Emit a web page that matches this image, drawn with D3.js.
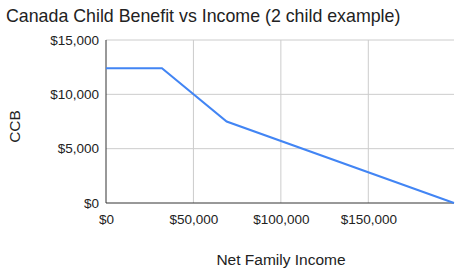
<!DOCTYPE html>
<html>
<head>
<meta charset="utf-8">
<script src="https://cdn.jsdelivr.net/npm/d3@7"></script>
<style>
  body { margin: 0; background: #fff; }
  text { font-family: "Liberation Sans", Arial, sans-serif; fill: #222; }
</style>
</head>
<body>
<svg id="chart" width="463" height="272"></svg>
<script>
const income = [0, 32000, 69000, 199000];
const ccb = [12400, 12400, 7500, 0];
const xTicks = [0, 50000, 100000, 150000];
const yTicks = [0, 5000, 10000, 15000];
const title = 'Canada Child Benefit vs Income (2 child example)';
const xLabel = 'Net Family Income';
const yLabel = 'CCB';

const margin = { top: 40, right: 9, bottom: 69, left: 106 };
const svg = d3.select('#chart');
const width = +svg.attr('width');
const height = +svg.attr('height');
const innerWidth = width - margin.left - margin.right;
const innerHeight = height - margin.top - margin.bottom;

const data = income.map((x, i) => ({ x, y: ccb[i] }));

const xScale = d3.scaleLinear().domain([0, 199000]).range([0, innerWidth]);
const yScale = d3.scaleLinear().domain([0, 15000]).range([innerHeight, 0]);
const money = d => '$' + d3.format(',')(d);

svg.append('text')
  .attr('x', 6).attr('y', 22)
  .style('font-size', '17.8px')
  .text(title);

const g = svg.append('g')
  .attr('transform', `translate(${margin.left},${margin.top})`);

// gridlines
g.append('g').selectAll('line').data(xTicks.slice(1))
  .enter().append('line')
    .attr('x1', d => xScale(d)).attr('x2', d => xScale(d))
    .attr('y1', 0).attr('y2', innerHeight)
    .attr('stroke', '#ccc');
g.append('g').selectAll('line').data(yTicks.slice(1))
  .enter().append('line')
    .attr('x1', 0).attr('x2', innerWidth)
    .attr('y1', d => yScale(d)).attr('y2', d => yScale(d))
    .attr('stroke', '#ccc');

const xAxisG = g.append('g')
  .attr('transform', `translate(0,${innerHeight})`)
  .call(d3.axisBottom(xScale).tickValues(xTicks).tickFormat(money).tickSize(0).tickPadding(11));
const yAxisG = g.append('g')
  .call(d3.axisLeft(yScale).tickValues(yTicks).tickFormat(money).tickSize(0).tickPadding(7));
[xAxisG, yAxisG].forEach(a => {
  a.select('.domain').remove();
  a.selectAll('text').style('font-size', '13.5px').attr('fill', '#222')
    .style('font-family', '"Liberation Sans", Arial, sans-serif');
});

// axis lines
g.append('line')
  .attr('x1', 0).attr('x2', innerWidth)
  .attr('y1', innerHeight).attr('y2', innerHeight)
  .attr('stroke', '#333');
g.append('line')
  .attr('x1', 0).attr('x2', 0)
  .attr('y1', 0).attr('y2', innerHeight)
  .attr('stroke', '#333');

const line = d3.line().x(d => xScale(d.x)).y(d => yScale(d.y));
g.append('path')
  .datum(data)
  .attr('fill', 'none')
  .attr('stroke', '#4285f4')
  .attr('stroke-width', 2)
  .attr('d', line);

svg.append('text')
  .attr('x', 281).attr('y', 265)
  .attr('text-anchor', 'middle')
  .style('font-size', '15.5px')
  .text(xLabel);

svg.append('text')
  .attr('transform', `translate(20,${margin.top + innerHeight / 2 + 5}) rotate(-90)`)
  .attr('text-anchor', 'middle')
  .style('font-size', '15.5px')
  .text(yLabel);
</script>
</body>
</html>
